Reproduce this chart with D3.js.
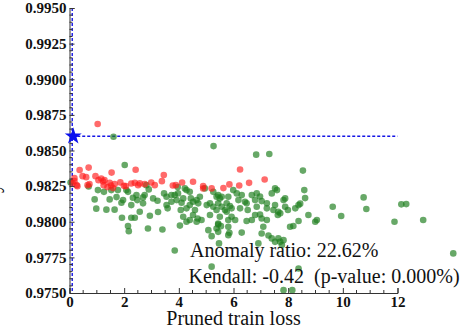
<!DOCTYPE html>
<html><head><meta charset="utf-8">
<script src="https://cdn.jsdelivr.net/npm/d3@7"></script>
<style>body{margin:0;background:#fff}svg{display:block}</style>
</head><body>
<svg id="c" width="474" height="335"></svg>
<script>
const xTicks = [0, 2, 4, 6, 8, 10, 12];
const yTicks = [0.9750, 0.9775, 0.9800, 0.9825, 0.9850, 0.9875, 0.9900, 0.9925, 0.9950];
const xLabel = "Pruned train loss";
const yLabel = "Pruned test accuracy";
const reference = [0.1, 0.986];
const annotations = ["Anomaly ratio: 22.62%", "Kendall: -0.42  (p-value: 0.000%)"];

const anomalyPoints = [
[1.03,0.98686],[0.11,0.98271],[0.18,0.98285],[0.26,0.98257],[0.37,0.98363],[0.70,0.98380],
[0.48,0.98320],[0.61,0.98313],[0.66,0.98257],[0.95,0.98320],[1.16,0.98303],[1.23,0.98282],
[1.28,0.98292],[1.47,0.98273],[1.52,0.98254],[1.59,0.98236],[1.54,0.98345],[1.86,0.98276],
[1.99,0.98252],[2.26,0.98268],[2.39,0.98273],[2.42,0.98365],[2.51,0.98257],[2.57,0.98269],
[2.75,0.98264],[2.99,0.98275],[3.45,0.98328],[3.38,0.98285],[3.78,0.98254],[3.89,0.98257],
[4.12,0.98275],[4.52,0.98281],[4.89,0.98250],[4.89,0.98233],[5.20,0.98234],[5.63,0.98236],
[5.85,0.98262],[6.21,0.98254],[6.24,0.98367],[6.57,0.98273],[7.14,0.98297],[0.18,0.98306],
[0.29,0.98250],[0.73,0.98264],[1.06,0.98292],[1.25,0.98257],[1.39,0.98243],[1.65,0.98264],
[2.06,0.98250],[3.12,0.98257]
];

const normalPoints = [
[1.61,0.98596],[2.02,0.98398],[5.27,0.98531],[6.83,0.98471],[7.31,0.98475],[8.54,0.98359],
[0.04,0.98275],
[0.70,0.98247],[1.04,0.98222],[1.26,0.98210],[1.53,0.98222],[1.77,0.98222],[2.08,0.98222],
[2.14,0.98210],[2.81,0.98257],[2.90,0.98227],[3.96,0.98243],[4.22,0.98234],[4.28,0.98222],
[4.40,0.98210],[4.95,0.98234],[5.26,0.98210],[5.99,0.98222],[7.52,0.98234],[7.59,0.98222],
[8.59,0.98222],
[1.47,0.98157],[0.92,0.98157],[1.96,0.98152],[1.72,0.98173],[2.32,0.98168],[2.48,0.98152],
[2.45,0.98187],[2.69,0.98171],[2.75,0.98187],[3.06,0.98164],[3.22,0.98147],[3.46,0.98199],
[3.55,0.98175],[3.73,0.98187],[3.85,0.98187],[3.97,0.98199],[4.16,0.98164],[4.44,0.98164],
[3.92,0.98152],[4.65,0.98152],[4.77,0.98175],[5.38,0.98175],[5.44,0.98187],[5.57,0.98175],
[5.81,0.98175],[6.12,0.98199],[6.30,0.98187],[6.67,0.98187],[6.85,0.98199],[6.97,0.98177],
[6.79,0.98152],[6.18,0.98152],[5.50,0.98164],[7.40,0.98199],[7.83,0.98152],[7.89,0.98164],
[8.62,0.98166],[10.76,0.98171],
[0.98,0.98092],[1.35,0.98085],[1.65,0.98085],[1.90,0.98133],[2.26,0.98117],[2.57,0.98070],
[2.69,0.98129],[3.24,0.98068],[3.55,0.98117],[3.59,0.98094],[3.73,0.98140],[4.10,0.98133],
[4.07,0.98082],[4.28,0.98094],[4.40,0.98117],[4.52,0.98140],[4.59,0.98082],[4.71,0.98129],
[5.02,0.98117],[5.14,0.98129],[5.26,0.98105],[5.38,0.98082],[5.44,0.98129],[5.57,0.98105],
[5.69,0.98082],[5.75,0.98129],[5.75,0.98070],[5.87,0.98110],[5.93,0.98094],[6.24,0.98094],
[6.42,0.98140],[6.48,0.98129],[6.52,0.98082],[6.85,0.98105],[7.03,0.98145],[7.22,0.98129],
[7.22,0.98094],[7.46,0.98082],[7.52,0.98117],[7.64,0.98070],[7.89,0.98105],[7.99,0.98082],
[8.26,0.98094],[8.38,0.98117],[8.44,0.98127],[9.63,0.98105],[10.86,0.98089],[12.14,0.98122],
[12.32,0.98124],
[1.92,0.98028],[2.26,0.98028],[2.39,0.98028],[2.94,0.98042],[4.52,0.98047],[4.69,0.98023],
[4.83,0.98012],[5.14,0.98047],[4.16,0.98035],[4.28,0.98000],[4.65,0.98000],[4.40,0.98012],
[5.44,0.97988],[5.50,0.98035],[5.81,0.98012],[5.93,0.98035],[6.06,0.98012],[6.48,0.98005],
[6.67,0.98012],[6.79,0.98047],[6.97,0.98051],[7.03,0.98023],[7.22,0.98012],[7.62,0.98047],
[7.71,0.98059],[8.74,0.98047],[8.99,0.98000],[9.05,0.98012],[9.94,0.98040],[8.38,0.98005],
[11.89,0.98000],[12.94,0.98012],
[2.14,0.97970],[2.17,0.97934],[2.87,0.97953],[3.40,0.97946],[4.04,0.97973],[5.08,0.97941],
[5.20,0.97899],[5.38,0.97953],[5.44,0.97981],[5.54,0.97969],[5.44,0.97929],[5.81,0.97965],
[5.81,0.97906],[5.85,0.97922],[6.30,0.97924],[7.03,0.97918],[7.09,0.97965],[7.28,0.97903],
[7.40,0.97883],[7.52,0.97859],[7.64,0.97883],[7.71,0.97859],[7.77,0.97836],[7.83,0.97871],
[8.07,0.97965],[8.19,0.97970],[5.47,0.97848],[6.91,0.97848],
[3.85,0.97798],[5.20,0.97685],[8.38,0.97672],[7.83,0.97520],[8.15,0.97520],[14.04,0.97778]
];

const svg = d3.select("#c");
const x = d3.scaleLinear().domain([0, 12]).range([69.5, 397.5]);
const y = d3.scaleLinear().domain([0.975, 0.995]).range([293, 8]);
const serif = "'Liberation Serif','Times New Roman',serif";

// y-axis label (mostly cut off on the left, as in the reference)
svg.append("text")
  .attr("transform", `translate(-1.5,183) rotate(-90)`)
  .attr("text-anchor", "end")
  .attr("font-family", serif).attr("font-size", 20)
  .text(yLabel);

// dashed reference lines
const blue = "#1414e6";
svg.append("line")
  .attr("x1", x(reference[0])).attr("x2", x(reference[0]))
  .attr("y1", y(0.995)).attr("y2", y(0.975))
  .attr("stroke", blue).attr("stroke-width", 1.4).attr("stroke-dasharray", "3,2");
svg.append("line")
  .attr("x1", x(reference[0])).attr("x2", x(12))
  .attr("y1", y(reference[1])).attr("y2", y(reference[1]))
  .attr("stroke", blue).attr("stroke-width", 1.3).attr("stroke-dasharray", "3,2");

// points
svg.append("g").selectAll("circle").data(normalPoints).join("circle")
  .attr("cx", d => x(d[0])).attr("cy", d => y(d[1])).attr("r", 3.3)
  .attr("fill", "#1f7f1f").attr("fill-opacity", 0.68);
svg.append("g").selectAll("circle").data(anomalyPoints).join("circle")
  .attr("cx", d => x(d[0])).attr("cy", d => y(d[1])).attr("r", 3.3)
  .attr("fill", "#ff1a1a").attr("fill-opacity", 0.65);

// axes
const xAxis = d3.axisBottom(x).tickValues(xTicks).tickSize(-5).tickPadding(3).tickFormat(d3.format("d"));
const gx = svg.append("g").attr("transform", "translate(0,293)").call(xAxis);
const xMinor = d3.range(0, 12.01, 0.5).filter(v => v % 2 !== 0);
gx.selectAll(".minor").data(xMinor).join("line").attr("class", "minor")
  .attr("x1", d => x(d)).attr("x2", d => x(d)).attr("y1", 0).attr("y2", -3).attr("stroke", "#333");

const yAxis = d3.axisLeft(y).tickValues(yTicks).tickSize(-5).tickPadding(3).tickFormat(d3.format(".4f"));
const gy = svg.append("g").attr("transform", `translate(${x(0)},0)`).call(yAxis);
const yMinor = d3.range(0, 41).map(i => 0.975 + i * 0.0005).filter((v, i) => i % 5 !== 0);
gy.selectAll(".minor").data(yMinor).join("line").attr("class", "minor")
  .attr("x1", 0).attr("x2", 3).attr("y1", d => y(d)).attr("y2", d => y(d)).attr("stroke", "#333");

[gx, gy].forEach(g => {
  g.select(".domain").attr("stroke", "#333");
  g.selectAll(".tick line").attr("stroke", "#333");
  g.selectAll(".tick text").attr("font-family", serif).attr("font-weight", "bold")
    .attr("font-size", 15).attr("fill", "#111");
});

// star
svg.append("path")
  .attr("d", d3.symbol(d3.symbolStar, 90)())
  .attr("transform", `translate(${x(reference[0]) + 1},${y(reference[1])})`)
  .attr("fill", "#0a10ee");

// x label
svg.append("text").attr("x", (x(0) + x(12)) / 2).attr("y", 325)
  .attr("text-anchor", "middle").attr("font-family", serif).attr("font-size", 20)
  .attr("fill", "#111").text(xLabel);

// annotations
svg.append("text").attr("x", 190).attr("y", 256.5)
  .attr("font-family", serif).attr("font-size", 20).attr("fill", "#111")
  .text(annotations[0]);
svg.append("text").attr("x", 188.5).attr("y", 283)
  .attr("font-family", serif).attr("font-size", 20).attr("fill", "#111")
  .style("white-space", "pre").text(annotations[1]);
</script>
</body></html>
